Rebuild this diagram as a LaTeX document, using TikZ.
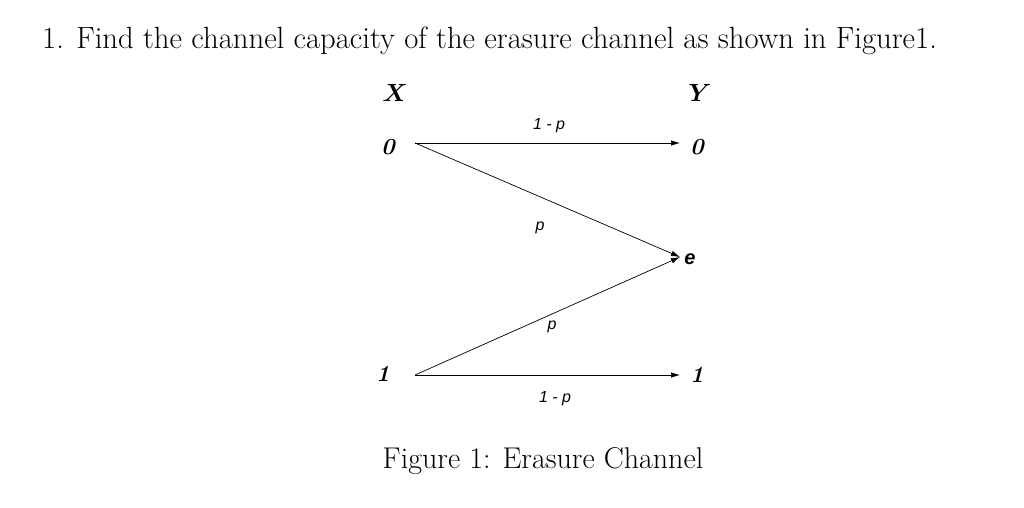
\documentclass[tikz,border=0pt]{standalone}
\usepackage{fontspec}
\usetikzlibrary{arrows.meta}
\newfontfamily\lsans{Liberation Sans}
\begin{document}
\begin{tikzpicture}[x=1pt,y=-1pt,
  sym/.style={font=\fontsize{23}{25}\selectfont\bfseries\itshape\boldmath},
  lab/.style={font=\lsans\itshape\fontsize{16}{18}\selectfont},
  ch/.style={line width=0.7pt,-{Latex[length=9pt,width=5.5pt]}}]
\useasboundingbox (0,0) rectangle (1024,507);
\node[anchor=base west,inner sep=0,font=\fontsize{30.7}{34}\selectfont] (title) at (42,48) {1. Find the channel capacity of the erasure channel as shown in Figure1.};
\node[sym] (X) at (395,93) {$X$};
\node[sym] (Y) at (700,93) {$Y$};
\node[sym] (x0) at (388,147) {0};
\node[sym] (y0) at (697,147) {0};
\node[font=\lsans\bfseries\itshape\fontsize{20}{22}\selectfont] (ye) at (690,259) {e};
\node[sym] (x1) at (383,374) {1};
\node[sym] (y1) at (697,375) {1};
\coordinate (a0) at (415,143);
\coordinate (a1) at (415,375);
\coordinate (b0) at (680,143);
\coordinate (be) at (680,257);
\coordinate (b1) at (680,375);
\draw[ch] (a0) -- (b0);
\draw[ch] (a0) -- (be);
\draw[ch] (a1) -- (be);
\draw[ch] (a1) -- (b1);
\node[lab] (l1) at (549,126) {1 - p};
\node[lab] (l2) at (540,228) {p};
\node[lab] (l3) at (552,327) {p};
\node[lab] (l4) at (555,399) {1 - p};
\node[font=\fontsize{30}{34}\selectfont] (cap) at (543,461) {Figure 1: Erasure Channel};
\end{tikzpicture}
\end{document}
